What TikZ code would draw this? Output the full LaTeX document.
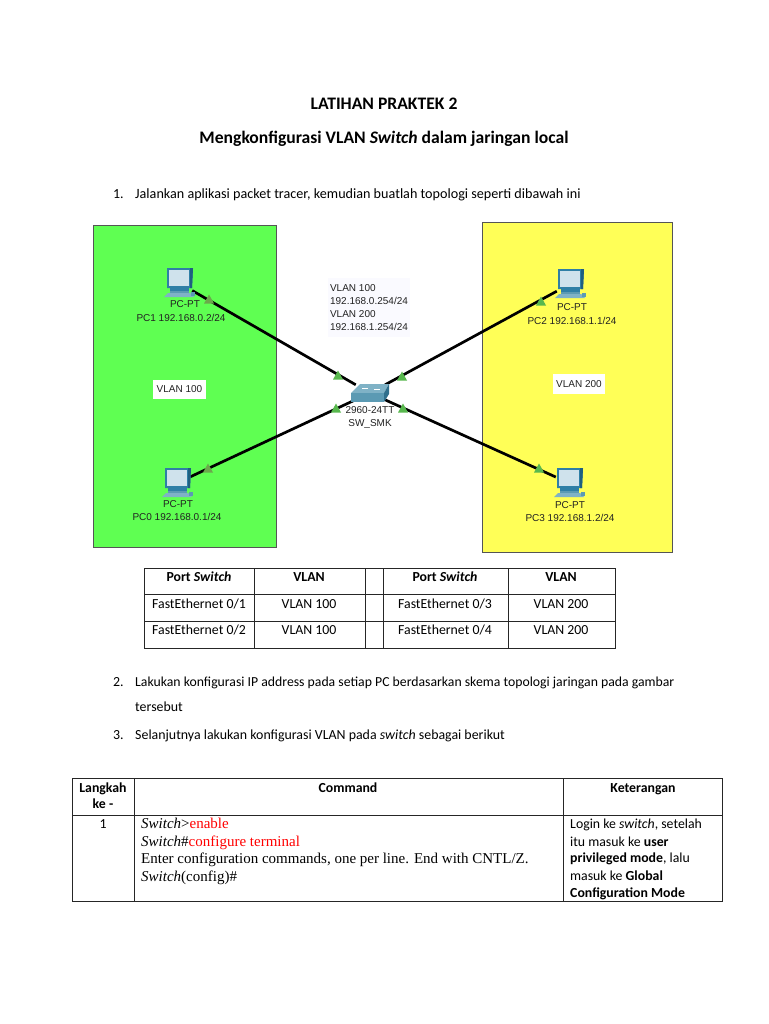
\documentclass[tikz,border=0pt]{standalone}
\usepackage{fontspec}
\setmainfont{Carlito}
\newfontfamily\arialf{Liberation Sans}
\newfontfamily\timesf{Liberation Serif}
\definecolor{zonegreen}{HTML}{5FFF52}
\definecolor{zoneyellow}{HTML}{FFFF57}
\definecolor{bordergray}{HTML}{555555}
\definecolor{pcblue}{HTML}{2F7FA6}
\definecolor{pcdark}{HTML}{1F5F80}
\definecolor{pcscreen}{HTML}{CFE2EC}
\definecolor{swtop}{HTML}{7FB2C6}
\definecolor{swfront}{HTML}{5B9AB3}
\definecolor{swside}{HTML}{2F6F8C}
\definecolor{tri}{HTML}{58B84E}
\definecolor{triz}{HTML}{6CA84C}
\definecolor{cmdred}{HTML}{FF0000}
\definecolor{inktext}{HTML}{222222}
\tikzset{
  zone/.style={draw=bordergray,line width=1pt},
  link/.style={draw=black,line width=2.7pt},
  hub/.style={inner sep=0pt,minimum width=26pt,minimum height=24pt},
  swhub/.style={inner sep=0pt,minimum width=30pt,minimum height=16pt},
  ptlabel/.style={font=\arialf\fontsize{10}{12}\selectfont,text=inktext,inner sep=0pt},
  tag/.style={ptlabel,fill=white,inner sep=0pt},
  body/.style={font=\fontsize{13.9}{17}\selectfont,text=black,inner sep=0pt,anchor=base west},
  head/.style={font=\bfseries\fontsize{17.6}{20}\selectfont,text=black,inner sep=0pt,anchor=base},
  cell/.style={font=\fontsize{13.8}{17}\selectfont,text=black,inner sep=0pt,anchor=base},
  note/.style={font=\fontsize{13.8}{17}\selectfont,text=black,inner sep=0pt,anchor=base west},
  cmd/.style={font=\timesf\fontsize{15}{18}\selectfont,text=black,inner sep=0pt,anchor=base west},
  grid/.style={draw=black!85,line width=1pt},
  triup/.pic={\fill[pic actions] (-5,4.5) -- (5,4.5) -- (0,-4.5) -- cycle;},
  pcicon/.pic={
    \fill[pcblue] (-12,-15) -- (14,-15) -- (13,5) -- (-12,5) -- cycle;
    \fill[pcdark] (11,-15) -- (14,-15) -- (13,5) -- (11,5) -- cycle;
    \fill[pcscreen] (-10,-13) rectangle (10,3);
    \fill[pcblue] (-9,5) rectangle (10,9);
    \fill[swfront] (-9,8) rectangle (10,10);
    \fill[swtop] (-11,10) -- (11,10) -- (15,14) -- (-15,14) -- cycle;
    \fill[swfront] (12,9) rectangle (16,13);
  },
  swicon/.pic={
    \fill[swtop] (-10,-9) -- (19,-9) -- (14,0) -- (-19,0) -- cycle;
    \fill[swfront] (-19,0) rectangle (14,9);
    \fill[swside] (14,0) -- (19,-9) -- (19,1) -- (14,9) -- cycle;
    \draw[white,line width=.5pt] (-8,-5) -- (-2,-5) (4,-4) -- (10,-4);
  }
}
\begin{document}
\begin{tikzpicture}[x=1pt,y=-1pt]
\useasboundingbox (0,0) rectangle (768,1024);
\fill[white] (0,0) rectangle (768,1024);

% headings
\node[head] (title1) at (384,110) {LATIHAN PRAKTEK 2};
\node[head] (title2) at (384,144) {Mengkonfigurasi VLAN \textit{Switch} dalam jaringan local};
\node[body] (n1) at (113,199) {1.};
\node[body,font=\fontsize{14.15}{17}\selectfont] (t1) at (135,199) {Jalankan aplikasi packet tracer, kemudian buatlah topologi seperti dibawah ini};

% zones
\path[zone,fill=zonegreen] (93.5,226) rectangle (276.5,547);
\path[zone,fill=zoneyellow] (482,223) rectangle (672,552);

% hubs
\node[hub] (pc1) at (179,283) {};
\node[hub] (pc0) at (177,483) {};
\node[hub] (pc2) at (570,284) {};
\node[hub] (pc3) at (569,483) {};
\node[swhub] (sw) at (370,393) {};

% links
\draw[link] (pc1) -- (sw);
\draw[link] (pc0) -- (sw);
\draw[link] (pc2) -- (sw);
\draw[link] (pc3) -- (sw);

% icons
\pic at (pc1) {pcicon};
\pic at (pc0) {pcicon};
\pic at (pc2) {pcicon};
\pic at (pc3) {pcicon};
\pic at (sw) {swicon};

% link lights
\pic[fill=triz] at (209,299) {triup};
\pic[fill=tri] at (338,375) {triup};
\pic[fill=tri] at (336,408) {triup};
\pic[fill=triz] at (208,468) {triup};
\pic[fill=tri] at (541,301) {triup};
\pic[fill=tri] at (402,376) {triup};
\pic[fill=tri] at (403,408) {triup};
\pic[fill=tri] at (539,468) {triup};

% device labels
\node[ptlabel] (l1a) at (185,304) {PC-PT};
\node[ptlabel] (l1b) at (181,318) {PC1 192.168.0.2/24};
\node[ptlabel] (l0a) at (178,504) {PC-PT};
\node[ptlabel] (l0b) at (177,517) {PC0 192.168.0.1/24};
\node[ptlabel] (l2a) at (572,307) {PC-PT};
\node[ptlabel] (l2b) at (572,321) {PC2 192.168.1.1/24};
\node[ptlabel] (l3a) at (570,505) {PC-PT};
\node[ptlabel] (l3b) at (570,518) {PC3 192.168.1.2/24};
\node[ptlabel] (lsa) at (370,410) {2960-24TT};
\node[ptlabel] (lsb) at (370,424) {SW\_SMK};

% tags
\node[tag,minimum width=53pt,minimum height=19pt] (v100) at (179.5,389.5) {VLAN 100};
\node[tag,minimum width=52pt,minimum height=20pt] (v200) at (579,384) {VLAN 200};
\node[tag,fill=blue!2,minimum width=82pt,minimum height=59pt,align=left,font=\arialf\fontsize{10}{13}\selectfont] (gw) at (369,307.5)
  {VLAN 100\\192.168.0.254/24\\VLAN 200\\192.168.1.254/24};

% port table
\draw[grid] (144,568) rectangle (615,648);
\draw[grid] (144,594) -- (615,594) (144,621) -- (615,621);
\draw[grid] (254,568) -- (254,648) (365,568) -- (365,648) (383,568) -- (383,648) (508,568) -- (508,648);
\node[cell] (p11) at (199,581) {\textbf{Port \textit{Switch}}};
\node[cell] (p12) at (309,581) {\textbf{VLAN}};
\node[cell] (p13) at (445,581) {\textbf{Port \textit{Switch}}};
\node[cell] (p14) at (561,581) {\textbf{VLAN}};
\node[cell] (p21) at (199,608) {FastEthernet 0/1};
\node[cell] (p22) at (309,608) {VLAN 100};
\node[cell] (p23) at (445,608) {FastEthernet 0/3};
\node[cell] (p24) at (561,608) {VLAN 200};
\node[cell] (p31) at (199,634) {FastEthernet 0/2};
\node[cell] (p32) at (309,634) {VLAN 100};
\node[cell] (p33) at (445,634) {FastEthernet 0/4};
\node[cell] (p34) at (561,634) {VLAN 200};

% body
\node[body] (n2) at (113,686) {2.};
\node[body,font=\fontsize{13.75}{17}\selectfont] (t2a) at (135,686) {Lakukan konfigurasi IP address pada setiap PC berdasarkan skema topologi jaringan pada gambar};
\node[body] (t2b) at (135,711) {tersebut};
\node[body] (n3) at (113,739) {3.};
\node[body] (t3) at (135,739) {Selanjutnya lakukan konfigurasi VLAN pada \textit{switch} sebagai berikut};

% command table
\draw[grid] (72,778) rectangle (722,901);
\draw[grid] (72,815) -- (722,815);
\draw[grid] (134,778) -- (134,901) (563,778) -- (563,901);
\node[cell] (h1) at (103,792) {\textbf{Langkah}};
\node[cell] (h1b) at (103,808) {\textbf{ke -}};
\node[cell] (h2) at (348,792) {\textbf{Command}};
\node[cell] (h3) at (643,792) {\textbf{Keterangan}};
\node[cell] (r1) at (103,828) {1};
\node[cmd] (c1) at (141,828) {\textit{Switch}>\textcolor{cmdred}{enable}};
\node[cmd] (c2) at (141,846) {\textit{Switch}\#\textcolor{cmdred}{configure terminal}};
\node[cmd] (c3) at (141,863) {Enter configuration commands, one per line. End with CNTL/Z.};
\node[cmd] (c4) at (141,881) {\textit{Switch}(config)\#};
\node[note] (k1) at (570,828) {Login ke \textit{switch}, setelah};
\node[note] (k2) at (570,846) {itu masuk ke \textbf{user}};
\node[note] (k3) at (570,862) {\textbf{privileged mode}, lalu};
\node[note] (k4) at (570,880) {masuk ke \textbf{Global}};
\node[note] (k5) at (570,897) {\textbf{Configuration Mode}};
\end{tikzpicture}
\end{document}
